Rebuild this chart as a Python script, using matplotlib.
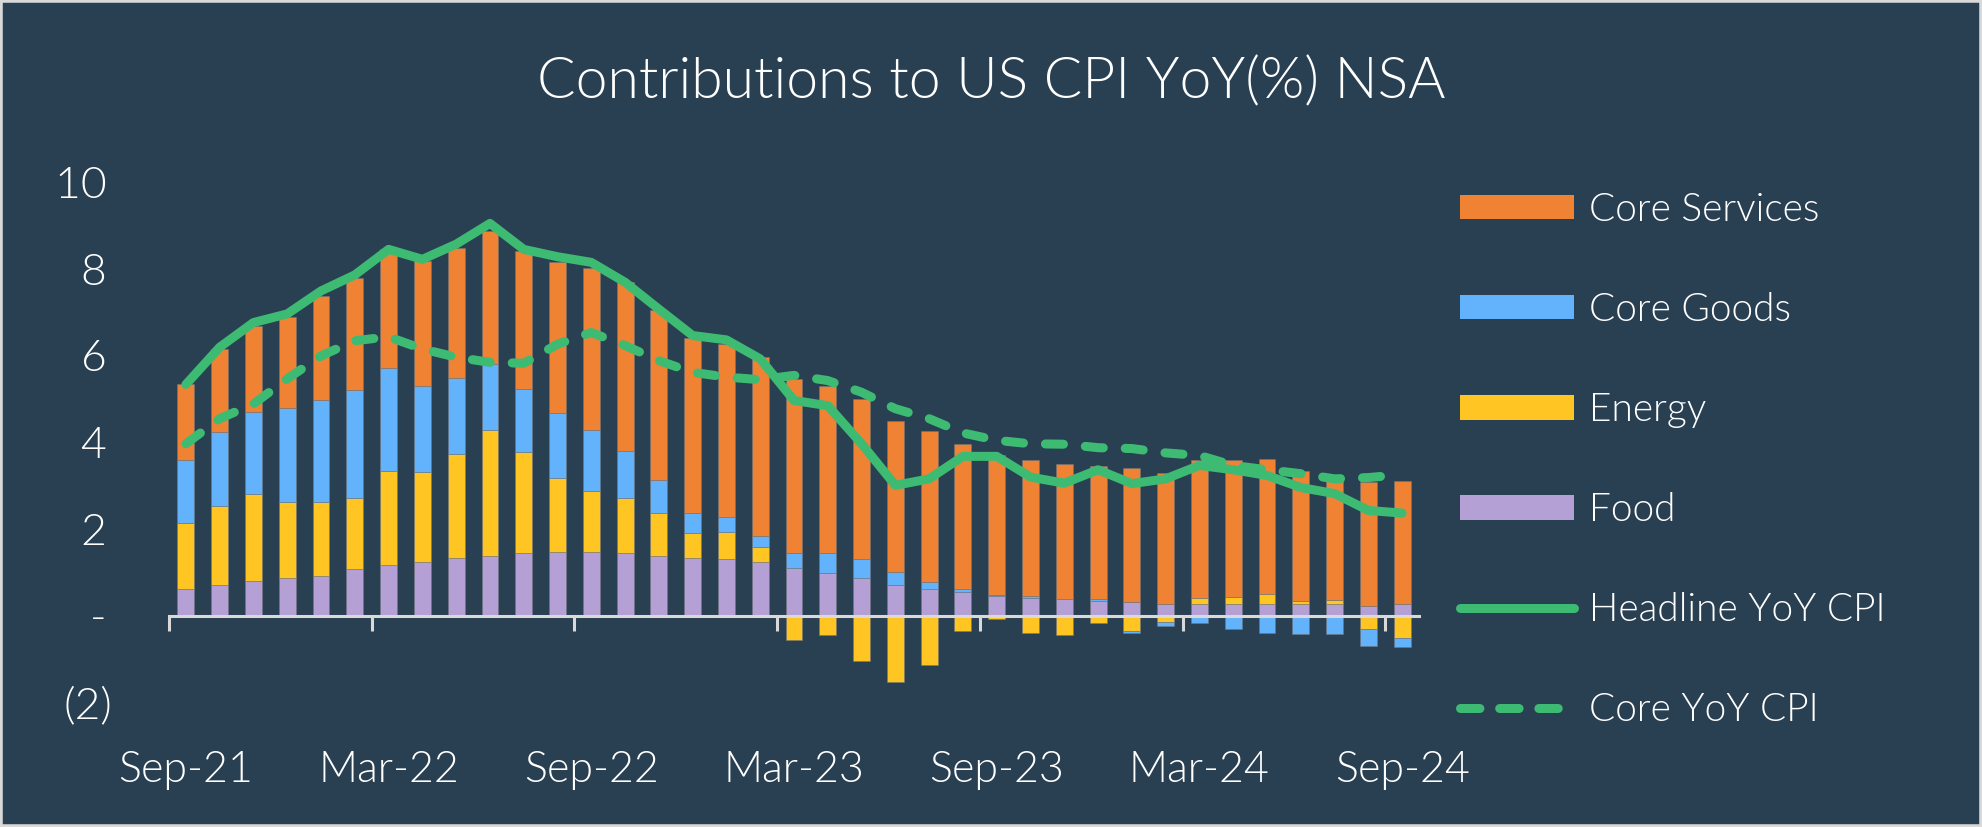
import matplotlib
matplotlib.use("Agg")
import matplotlib.pyplot as plt
from matplotlib import font_manager
from matplotlib.patches import Rectangle
from matplotlib.lines import Line2D
from matplotlib.patches import Patch
import matplotlib.transforms as mtransforms
import numpy as np

# ---------------- data ----------------
months = ['Sep-21', 'Oct-21', 'Nov-21', 'Dec-21', 'Jan-22', 'Feb-22', 'Mar-22', 'Apr-22',
          'May-22', 'Jun-22', 'Jul-22', 'Aug-22', 'Sep-22', 'Oct-22', 'Nov-22', 'Dec-22',
          'Jan-23', 'Feb-23', 'Mar-23', 'Apr-23', 'May-23', 'Jun-23', 'Jul-23', 'Aug-23',
          'Sep-23', 'Oct-23', 'Nov-23', 'Dec-23', 'Jan-24', 'Feb-24', 'Mar-24', 'Apr-24',
          'May-24', 'Jun-24', 'Jul-24', 'Aug-24', 'Sep-24']
tick_labels = ['Sep-21', 'Mar-22', 'Sep-22', 'Mar-23', 'Sep-23', 'Mar-24', 'Sep-24']

food = [0.61, 0.72, 0.81, 0.86, 0.92, 1.07, 1.18, 1.25, 1.34, 1.37, 1.44, 1.48, 1.48,
        1.44, 1.39, 1.34, 1.32, 1.23, 1.09, 0.98, 0.86, 0.72, 0.61, 0.54, 0.46, 0.42,
        0.38, 0.33, 0.31, 0.26, 0.26, 0.26, 0.26, 0.26, 0.26, 0.23, 0.28]
energy = [1.52, 1.81, 2.00, 1.77, 1.71, 1.65, 2.16, 2.07, 2.39, 2.92, 2.34, 1.71, 1.41,
          1.28, 0.97, 0.56, 0.62, 0.36, -0.56, -0.45, -1.05, -1.54, -1.14, -0.35, -0.08,
          -0.41, -0.45, -0.18, -0.35, -0.14, 0.16, 0.18, 0.25, 0.07, 0.10, -0.31, -0.51]
core_goods = [1.47, 1.71, 1.89, 2.16, 2.35, 2.49, 2.37, 1.98, 1.75, 1.52, 1.46, 1.50, 1.40,
              1.09, 0.78, 0.46, 0.33, 0.25, 0.35, 0.46, 0.44, 0.29, 0.17, 0.07, 0.02, 0.03,
              0.00, 0.05, -0.05, -0.09, -0.18, -0.31, -0.41, -0.43, -0.43, -0.39, -0.21]
core_services = [1.74, 1.92, 1.98, 2.10, 2.41, 2.59, 2.75, 2.88, 3.02, 3.08, 3.19, 3.48, 3.74,
                 3.89, 3.92, 4.05, 4.00, 4.14, 4.03, 3.87, 3.71, 3.48, 3.48, 3.35, 3.24, 3.14,
                 3.13, 3.07, 3.11, 3.04, 3.17, 3.15, 3.10, 3.00, 2.77, 2.86, 2.82]
headline = [5.34, 6.20, 6.77, 6.97, 7.50, 7.87, 8.46, 8.23, 8.58, 9.06, 8.46, 8.29, 8.16,
            7.70, 7.08, 6.47, 6.37, 5.93, 4.97, 4.85, 3.97, 3.01, 3.16, 3.68, 3.68, 3.20,
            3.06, 3.37, 3.05, 3.16, 3.47, 3.37, 3.24, 2.96, 2.82, 2.43, 2.37]
core = [3.97, 4.55, 4.89, 5.47, 6.00, 6.35, 6.44, 6.16, 5.97, 5.85, 5.83, 6.27, 6.54,
        6.24, 5.89, 5.62, 5.51, 5.45, 5.55, 5.43, 5.16, 4.78, 4.55, 4.22, 4.05, 3.97,
        3.96, 3.88, 3.86, 3.76, 3.70, 3.47, 3.37, 3.28, 3.16, 3.19, 3.26]

y_ticks = [-2, 0, 2, 4, 6, 8, 10]
y_tick_labels = ['(2)', '-\u2009', '2\u2009', '4\u2009', '6\u2009', '8\u2009', '10\u2009']

# ---------------- style ----------------
BG = '#293F52'
C_SERV = '#EF8233'
C_GOODS = '#63B3FC'
C_ENERGY = '#FFC623'
C_FOOD = '#B5A0D6'
C_GREEN = '#3DBB73'
C_AXIS = '#D9D9D9'

names = {f.name for f in font_manager.fontManager.ttflist}
FONT = 'Lato' if 'Lato' in names else 'DejaVu Sans'
plt.rcParams['font.family'] = [FONT, 'DejaVu Sans']
plt.rcParams['font.weight'] = 300
plt.rcParams['lines.scale_dashes'] = False

fig = plt.figure(figsize=(19.82, 8.27), dpi=100, facecolor=BG)
ax = fig.add_axes([0.08527, 0.1508, 0.63068, 0.6283])
ax.set_facecolor(BG)

x = np.arange(len(months))
series = [('Food', food, C_FOOD), ('Energy', energy, C_ENERGY),
          ('Core Goods', core_goods, C_GOODS), ('Core Services', core_services, C_SERV)]
pos_bottom = np.zeros(len(months))
neg_bottom = np.zeros(len(months))
for name, vals, col in series:
    v = np.asarray(vals, dtype=float)
    bottom = np.where(v >= 0, pos_bottom, neg_bottom)
    ax.bar(x, v, width=0.5, bottom=bottom, color=col,
           edgecolor=(0.45, 0.47, 0.5, 0.6), linewidth=0.6, zorder=1)
    pos_bottom = pos_bottom + np.where(v >= 0, v, 0)
    neg_bottom = neg_bottom + np.where(v < 0, v, 0)

LW = 6.5
DASH = (13, 15.8)
ax.plot(x, headline, color=C_GREEN, lw=LW, solid_capstyle='round',
        solid_joinstyle='round', zorder=4)
ax.plot(x, core, color=C_GREEN, lw=LW, dashes=DASH, dash_capstyle='round',
        dash_joinstyle='round', zorder=4)

ax.set_xlim(-0.5, 36.5)
ax.set_ylim(-2, 10)

for s in ['top', 'right', 'left']:
    ax.spines[s].set_visible(False)
ax.spines['bottom'].set_position(('data', 0))
ax.spines['bottom'].set_color(C_AXIS)
ax.spines['bottom'].set_linewidth(2.2)
ax.spines['bottom'].set_zorder(3)

ax.set_xticks(np.arange(-0.5, 36, 6))
ax.set_xticklabels([])
ax.tick_params(axis='x', direction='out', length=10.8, width=2.2, color=C_AXIS)

ax.set_yticks(y_ticks)
ax.set_yticklabels(y_tick_labels)
ax.tick_params(axis='y', length=0, pad=41, labelsize=32, labelcolor='white')

trans = mtransforms.blended_transform_factory(ax.transData, ax.transAxes)
for lab in tick_labels:
    ax.text(months.index(lab), -0.1534, lab, transform=trans, ha='center',
            va='baseline', fontsize=31, color='white', clip_on=False)

fig.text(0.5, 0.90, 'Contributions to US CPI YoY(%) NSA', ha='center', va='center',
         fontsize=41, color='white')

handles = [Patch(facecolor=C_SERV, edgecolor='none'),
           Patch(facecolor=C_GOODS, edgecolor='none'),
           Patch(facecolor=C_ENERGY, edgecolor='none'),
           Patch(facecolor=C_FOOD, edgecolor='none'),
           Line2D([], [], color=C_GREEN, lw=LW, solid_capstyle='round'),
           Line2D([], [], color=C_GREEN, lw=LW, dashes=(14, 14.2), dash_capstyle='round')]
labels = ['Core Services', 'Core Goods', 'Energy', 'Food', 'Headline YoY CPI', 'Core YoY CPI']
leg = fig.legend(handles, labels, loc='upper left', bbox_to_anchor=(0.7366, 0.7683),
                 frameon=False, fontsize=28, labelcolor='white', handlelength=2.93,
                 handleheight=0.6, handletextpad=0.4, labelspacing=1.65, borderpad=0,
                 borderaxespad=0)

fig.patches.append(Rectangle((0, 0), 1, 1, transform=fig.transFigure, fill=False,
                             edgecolor=C_AXIS, linewidth=4, zorder=10))

fig.savefig('out.png', dpi=100, facecolor=BG)
